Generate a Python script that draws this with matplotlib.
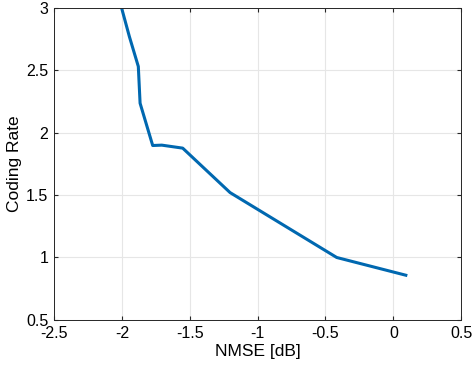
import matplotlib.pyplot as plt

# NMSE [dB] vs coding rate
nmse = [-2.00, -1.945, -1.879, -1.866, -1.773, -1.706, -1.552, -1.203, -0.417, 0.092]
rate = [2.99, 2.77, 2.53, 2.236, 1.897, 1.90, 1.876, 1.52, 1.00, 0.858]

plt.rcParams['font.family'] = ['Liberation Sans', 'DejaVu Sans']

fig = plt.figure(figsize=(4.74, 3.72), dpi=100)
ax = fig.add_axes([0.114, 0.140, 0.859, 0.839])

ax.plot(nmse, rate, color='#0068B0', linewidth=2.2)

ax.set_xlim(-2.5, 0.5)
ax.set_ylim(0.5, 3)
ax.set_xticks([-2.5, -2, -1.5, -1, -0.5, 0, 0.5])
ax.set_xticklabels(['-2.5', '-2', '-1.5', '-1', '-0.5', '0', '0.5'])
ax.set_yticks([0.5, 1, 1.5, 2, 2.5, 3])
ax.set_yticklabels(['0.5', '1', '1.5', '2', '2.5', '3'])
ax.grid(True, color='#e6e6e6', linewidth=0.8)
ax.set_axisbelow(True)
ax.tick_params(direction='in', length=3, labelsize=11.5, color='#262626',
               top=True, right=True)
ax.tick_params(axis='x', pad=4.5)
ax.tick_params(axis='y', pad=4)
for s in ax.spines.values():
    s.set_color('#262626')
    s.set_linewidth(0.7)

ax.set_xlabel('NMSE [dB]', fontsize=12.5, labelpad=2)
ax.set_ylabel('Coding Rate', fontsize=12.5, labelpad=3)

fig.savefig('out.png', dpi=100)
